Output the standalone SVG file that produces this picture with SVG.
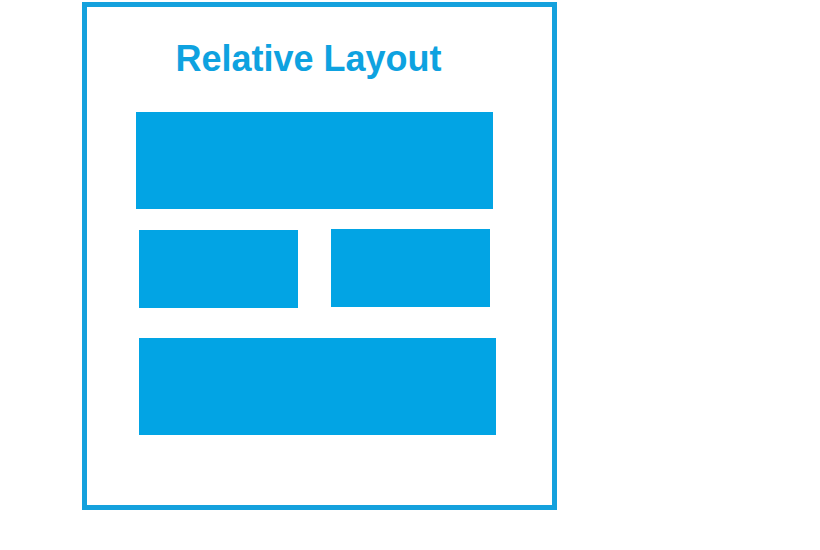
<svg xmlns="http://www.w3.org/2000/svg" width="820" height="550" viewBox="0 0 820 550">
<style>
.blk{fill:#02A4E4;}
.frame{fill:none;stroke:#14A1DD;stroke-width:5;}
.title{font-family:"Liberation Sans",Arial,sans-serif;font-weight:bold;font-size:36px;fill:#0EA2E0;}
</style>
<rect width="820" height="550" fill="#FFFFFF"/>
<g id="frame"><rect class="frame" x="84.5" y="4.5" width="470" height="503"/></g>
<g id="title"><text class="title" x="308.5" y="71" text-anchor="middle">Relative Layout</text></g>
<g id="box-top"><rect class="blk" x="136" y="112" width="357" height="97"/></g>
<g id="box-mid-left"><rect class="blk" x="139" y="230" width="159" height="78"/></g>
<g id="box-mid-right"><rect class="blk" x="331" y="229" width="159" height="78"/></g>
<g id="box-bottom"><rect class="blk" x="139" y="338" width="357" height="97"/></g>
<g id="connectors"></g>
</svg>
